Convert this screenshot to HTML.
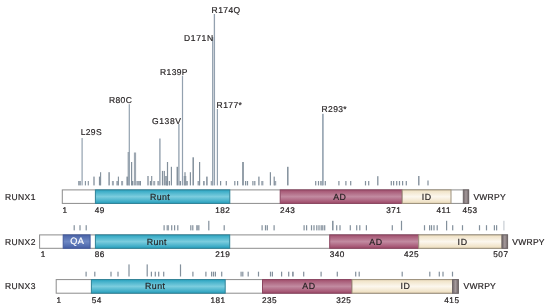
<!DOCTYPE html>
<html lang="en"><head><meta charset="utf-8"><title>RUNX mutations</title>
<style>
html,body{margin:0;padding:0;background:#fff;}
body{width:550px;height:308px;overflow:hidden;font-family:"Liberation Sans",Arial,sans-serif;}
svg{display:block;}
</style></head><body>
<svg width="550" height="308" viewBox="0 0 550 308">
<defs>
<linearGradient id="gr" x1="0" y1="0" x2="0" y2="1"><stop offset="0" stop-color="#2ca5c2"/><stop offset="0.5" stop-color="#7ccdde"/><stop offset="1" stop-color="#27a0be"/></linearGradient>
<linearGradient id="ga" x1="0" y1="0" x2="0" y2="1"><stop offset="0" stop-color="#a2506e"/><stop offset="0.5" stop-color="#c28ba1"/><stop offset="1" stop-color="#9e4868"/></linearGradient>
<linearGradient id="gi" x1="0" y1="0" x2="0" y2="1"><stop offset="0" stop-color="#eedfc0"/><stop offset="0.5" stop-color="#fcf7ee"/><stop offset="1" stop-color="#edddbc"/></linearGradient>
<linearGradient id="gq" x1="0" y1="0" x2="0" y2="1"><stop offset="0" stop-color="#4a64a8"/><stop offset="0.5" stop-color="#6e88c4"/><stop offset="1" stop-color="#4560a6"/></linearGradient>
<linearGradient id="gg" x1="0" y1="0" x2="1" y2="0"><stop offset="0" stop-color="#6e6466"/><stop offset="0.5" stop-color="#a59a9c"/><stop offset="1" stop-color="#6e6466"/></linearGradient>
</defs>
<g id="ticks" fill="#83909c">
<rect x="78.00" y="181.00" width="3.00" height="4.40" opacity="0.78"/>
<rect x="81.50" y="138.00" width="1.20" height="47.40" opacity="1" fill="#93a1af"/>
<rect x="84.85" y="181.00" width="1.10" height="4.40" opacity="1"/>
<rect x="87.75" y="181.00" width="1.10" height="4.40" opacity="1"/>
<rect x="93.35" y="176.60" width="1.30" height="8.80" opacity="1"/>
<rect x="98.90" y="176.60" width="1.40" height="8.80" opacity="1"/>
<rect x="100.05" y="172.20" width="1.10" height="13.20" opacity="1"/>
<rect x="108.40" y="172.20" width="1.40" height="13.20" opacity="1"/>
<rect x="111.90" y="181.00" width="2.00" height="4.40" opacity="0.78"/>
<rect x="116.30" y="181.00" width="2.00" height="4.40" opacity="0.78"/>
<rect x="117.85" y="176.60" width="1.10" height="8.80" opacity="1"/>
<rect x="121.10" y="181.00" width="2.00" height="4.40" opacity="0.78"/>
<rect x="126.45" y="176.60" width="1.50" height="8.80" opacity="1"/>
<rect x="127.60" y="152.00" width="2.00" height="33.40" opacity="0.78"/>
<rect x="128.70" y="104.20" width="1.20" height="81.20" opacity="1" fill="#93a1af"/>
<rect x="131.00" y="162.00" width="1.20" height="23.40" opacity="1"/>
<rect x="131.85" y="181.00" width="1.50" height="4.40" opacity="1"/>
<rect x="133.90" y="152.50" width="2.20" height="32.90" opacity="0.78"/>
<rect x="136.40" y="181.00" width="4.00" height="4.40" opacity="0.78"/>
<rect x="140.00" y="181.00" width="1.00" height="4.40" opacity="1"/>
<rect x="147.35" y="176.00" width="1.30" height="9.40" opacity="1"/>
<rect x="149.85" y="181.00" width="1.50" height="4.40" opacity="1"/>
<rect x="151.15" y="176.00" width="1.10" height="9.40" opacity="1"/>
<rect x="153.20" y="181.00" width="2.00" height="4.40" opacity="0.78"/>
<rect x="157.30" y="181.00" width="2.00" height="4.40" opacity="0.78"/>
<rect x="159.20" y="138.50" width="1.40" height="46.90" opacity="1" fill="#93a1af"/>
<rect x="161.90" y="170.90" width="1.20" height="14.50" opacity="1"/>
<rect x="163.70" y="170.90" width="1.20" height="14.50" opacity="1"/>
<rect x="165.25" y="176.00" width="1.50" height="9.40" opacity="1"/>
<rect x="166.90" y="162.00" width="1.20" height="23.40" opacity="1"/>
<rect x="166.00" y="181.00" width="2.00" height="4.40" opacity="0.78"/>
<rect x="168.80" y="181.00" width="1.20" height="4.40" opacity="1"/>
<rect x="170.80" y="166.80" width="1.20" height="18.60" opacity="1"/>
<rect x="176.55" y="166.80" width="1.50" height="18.60" opacity="1"/>
<rect x="178.25" y="124.00" width="1.30" height="61.40" opacity="1" fill="#93a1af"/>
<rect x="179.55" y="181.00" width="1.50" height="4.40" opacity="1"/>
<rect x="181.90" y="75.70" width="1.20" height="109.70" opacity="1" fill="#93a1af"/>
<rect x="183.70" y="176.00" width="2.60" height="9.40" opacity="0.78"/>
<rect x="184.40" y="172.20" width="1.20" height="13.20" opacity="1"/>
<rect x="186.25" y="181.00" width="1.50" height="4.40" opacity="1"/>
<rect x="189.80" y="172.20" width="1.20" height="13.20" opacity="1"/>
<rect x="192.45" y="157.30" width="1.50" height="28.10" opacity="1"/>
<rect x="197.50" y="181.00" width="2.00" height="4.40" opacity="0.78"/>
<rect x="199.00" y="162.00" width="1.20" height="23.40" opacity="1"/>
<rect x="203.15" y="181.00" width="1.50" height="4.40" opacity="1"/>
<rect x="206.15" y="176.60" width="1.50" height="8.80" opacity="1"/>
<rect x="210.70" y="181.00" width="2.00" height="4.40" opacity="0.78"/>
<rect x="212.05" y="37.00" width="1.30" height="148.40" opacity="1" fill="#93a1af"/>
<rect x="213.75" y="14.00" width="1.30" height="171.40" opacity="1" fill="#93a1af"/>
<rect x="216.80" y="109.00" width="1.20" height="76.40" opacity="1" fill="#93a1af"/>
<rect x="220.00" y="181.00" width="1.20" height="4.40" opacity="1"/>
<rect x="225.70" y="181.00" width="1.20" height="4.40" opacity="1"/>
<rect x="234.20" y="181.00" width="1.20" height="4.40" opacity="1"/>
<rect x="237.00" y="181.00" width="1.20" height="4.40" opacity="1"/>
<rect x="242.15" y="162.00" width="1.70" height="23.40" opacity="1"/>
<rect x="245.00" y="181.00" width="1.20" height="4.40" opacity="1"/>
<rect x="246.90" y="181.00" width="1.20" height="4.40" opacity="1"/>
<rect x="252.30" y="181.00" width="1.20" height="4.40" opacity="1"/>
<rect x="254.20" y="181.00" width="1.20" height="4.40" opacity="1"/>
<rect x="258.25" y="176.60" width="1.30" height="8.80" opacity="1"/>
<rect x="261.20" y="181.00" width="2.20" height="4.40" opacity="0.78"/>
<rect x="269.80" y="172.20" width="1.20" height="13.20" opacity="1"/>
<rect x="273.60" y="176.60" width="1.20" height="8.80" opacity="1"/>
<rect x="274.20" y="181.00" width="2.00" height="4.40" opacity="0.78"/>
<rect x="287.05" y="166.80" width="1.50" height="18.60" opacity="1"/>
<rect x="315.10" y="181.00" width="1.20" height="4.40" opacity="1"/>
<rect x="317.90" y="181.00" width="1.20" height="4.40" opacity="1"/>
<rect x="320.25" y="181.00" width="1.10" height="4.40" opacity="1"/>
<rect x="321.50" y="181.00" width="1.00" height="4.40" opacity="1"/>
<rect x="322.10" y="113.80" width="1.60" height="71.60" opacity="1" fill="#93a1af"/>
<rect x="324.70" y="181.00" width="1.20" height="4.40" opacity="1"/>
<rect x="338.30" y="181.00" width="1.20" height="4.40" opacity="1"/>
<rect x="345.30" y="181.00" width="1.20" height="4.40" opacity="1"/>
<rect x="350.10" y="181.00" width="1.20" height="4.40" opacity="1"/>
<rect x="364.90" y="181.00" width="1.20" height="4.40" opacity="1"/>
<rect x="368.10" y="181.00" width="1.20" height="4.40" opacity="1"/>
<rect x="377.15" y="176.20" width="1.30" height="9.20" opacity="1"/>
<rect x="390.70" y="181.00" width="1.20" height="4.40" opacity="1"/>
<rect x="393.00" y="181.00" width="1.20" height="4.40" opacity="1"/>
<rect x="396.10" y="181.00" width="1.20" height="4.40" opacity="1"/>
<rect x="398.90" y="181.00" width="1.20" height="4.40" opacity="1"/>
<rect x="402.00" y="181.00" width="1.20" height="4.40" opacity="1"/>
<rect x="405.70" y="181.00" width="1.20" height="4.40" opacity="1"/>
<rect x="418.10" y="176.00" width="1.40" height="9.40" opacity="1"/>
<rect x="427.40" y="180.50" width="1.20" height="4.90" opacity="1"/>
<rect x="73.60" y="225.20" width="1.20" height="5.20" opacity="1"/>
<rect x="79.40" y="225.20" width="1.20" height="5.20" opacity="1"/>
<rect x="85.60" y="225.20" width="1.20" height="5.20" opacity="1"/>
<rect x="163.50" y="225.20" width="1.20" height="5.20" opacity="1"/>
<rect x="166.55" y="225.20" width="2.50" height="5.20" opacity="0.8"/>
<rect x="171.10" y="225.20" width="1.20" height="5.20" opacity="1"/>
<rect x="174.00" y="225.20" width="1.20" height="5.20" opacity="1"/>
<rect x="177.20" y="225.20" width="1.20" height="5.20" opacity="1"/>
<rect x="190.20" y="225.20" width="1.20" height="5.20" opacity="1"/>
<rect x="192.20" y="225.20" width="1.20" height="5.20" opacity="1"/>
<rect x="196.05" y="225.20" width="3.50" height="5.20" opacity="0.8"/>
<rect x="208.20" y="220.80" width="1.20" height="9.60" opacity="1"/>
<rect x="223.60" y="225.20" width="1.20" height="5.20" opacity="1"/>
<rect x="261.50" y="225.20" width="1.20" height="5.20" opacity="1"/>
<rect x="264.90" y="225.20" width="1.20" height="5.20" opacity="1"/>
<rect x="266.70" y="225.20" width="1.20" height="5.20" opacity="1"/>
<rect x="273.50" y="225.20" width="1.20" height="5.20" opacity="1"/>
<rect x="303.50" y="225.20" width="1.20" height="5.20" opacity="1"/>
<rect x="306.00" y="225.20" width="1.20" height="5.20" opacity="1"/>
<rect x="310.90" y="225.20" width="1.20" height="5.20" opacity="1"/>
<rect x="313.40" y="225.20" width="1.20" height="5.20" opacity="1"/>
<rect x="316.20" y="225.20" width="1.20" height="5.20" opacity="1"/>
<rect x="318.40" y="225.20" width="1.20" height="5.20" opacity="1"/>
<rect x="320.60" y="225.20" width="1.20" height="5.20" opacity="1"/>
<rect x="322.20" y="225.20" width="1.20" height="5.20" opacity="1"/>
<rect x="324.10" y="225.20" width="1.20" height="5.20" opacity="1"/>
<rect x="332.05" y="220.80" width="1.50" height="9.60" opacity="1"/>
<rect x="336.10" y="225.20" width="1.20" height="5.20" opacity="1"/>
<rect x="339.40" y="225.20" width="1.20" height="5.20" opacity="1"/>
<rect x="349.70" y="225.20" width="1.20" height="5.20" opacity="1"/>
<rect x="356.10" y="225.20" width="1.20" height="5.20" opacity="1"/>
<rect x="359.20" y="225.20" width="1.20" height="5.20" opacity="1"/>
<rect x="365.80" y="225.20" width="1.20" height="5.20" opacity="1"/>
<rect x="391.70" y="225.20" width="1.20" height="5.20" opacity="1"/>
<rect x="400.90" y="220.80" width="1.20" height="9.60" opacity="1"/>
<rect x="423.90" y="225.20" width="1.20" height="5.20" opacity="1"/>
<rect x="429.00" y="225.20" width="1.20" height="5.20" opacity="1"/>
<rect x="430.90" y="225.20" width="1.20" height="5.20" opacity="1"/>
<rect x="433.40" y="225.20" width="1.20" height="5.20" opacity="1"/>
<rect x="436.60" y="225.20" width="1.20" height="5.20" opacity="1"/>
<rect x="446.00" y="220.80" width="1.20" height="9.60" opacity="1"/>
<rect x="452.10" y="225.20" width="1.20" height="5.20" opacity="1"/>
<rect x="461.90" y="225.20" width="1.20" height="5.20" opacity="1"/>
<rect x="478.90" y="225.20" width="1.20" height="5.20" opacity="1"/>
<rect x="485.90" y="225.20" width="1.20" height="5.20" opacity="1"/>
<rect x="493.80" y="225.20" width="1.20" height="5.20" opacity="1"/>
<rect x="496.00" y="225.20" width="1.20" height="5.20" opacity="1"/>
<rect x="503.30" y="220.80" width="1.20" height="9.60" opacity="0.45"/>
<rect x="85.50" y="271.70" width="1.20" height="4.80" opacity="1"/>
<rect x="94.20" y="271.70" width="1.20" height="4.80" opacity="1"/>
<rect x="110.40" y="271.70" width="1.20" height="4.80" opacity="1"/>
<rect x="117.40" y="271.70" width="1.20" height="4.80" opacity="1"/>
<rect x="128.40" y="264.40" width="1.20" height="12.10" opacity="1"/>
<rect x="146.60" y="264.40" width="1.20" height="12.10" opacity="1"/>
<rect x="150.80" y="271.70" width="1.20" height="4.80" opacity="1"/>
<rect x="154.70" y="271.70" width="1.20" height="4.80" opacity="1"/>
<rect x="158.10" y="271.70" width="1.20" height="4.80" opacity="1"/>
<rect x="163.10" y="271.70" width="1.20" height="4.80" opacity="1"/>
<rect x="179.90" y="264.40" width="1.20" height="12.10" opacity="1"/>
<rect x="192.30" y="271.70" width="1.20" height="4.80" opacity="1"/>
<rect x="205.30" y="271.70" width="1.20" height="4.80" opacity="1"/>
<rect x="211.00" y="271.70" width="1.20" height="4.80" opacity="1"/>
<rect x="212.90" y="271.70" width="1.20" height="4.80" opacity="1"/>
<rect x="214.80" y="271.70" width="1.20" height="4.80" opacity="1"/>
<rect x="221.10" y="271.70" width="1.20" height="4.80" opacity="1"/>
<rect x="240.50" y="271.70" width="1.20" height="4.80" opacity="1"/>
<rect x="242.20" y="271.70" width="1.20" height="4.80" opacity="1"/>
<rect x="247.60" y="271.70" width="1.20" height="4.80" opacity="1"/>
<rect x="257.90" y="271.70" width="1.20" height="4.80" opacity="1"/>
<rect x="269.90" y="271.70" width="1.20" height="4.80" opacity="1"/>
<rect x="271.80" y="271.70" width="1.20" height="4.80" opacity="1"/>
<rect x="281.00" y="271.70" width="1.20" height="4.80" opacity="1"/>
<rect x="288.10" y="271.70" width="1.20" height="4.80" opacity="1"/>
<rect x="292.10" y="271.70" width="1.60" height="4.80" opacity="1"/>
<rect x="303.10" y="271.70" width="1.20" height="4.80" opacity="1"/>
<rect x="320.50" y="271.70" width="1.20" height="4.80" opacity="1"/>
<rect x="336.70" y="271.70" width="1.20" height="4.80" opacity="1"/>
<rect x="355.10" y="271.70" width="1.20" height="4.80" opacity="1"/>
<rect x="358.60" y="271.70" width="1.20" height="4.80" opacity="1"/>
<rect x="401.60" y="271.70" width="1.20" height="4.80" opacity="1"/>
<rect x="429.20" y="271.70" width="1.20" height="4.80" opacity="1"/>
<rect x="438.70" y="271.70" width="1.20" height="4.80" opacity="1"/>
<rect x="442.40" y="271.70" width="1.20" height="4.80" opacity="1"/>
<rect x="451.90" y="271.70" width="1.20" height="4.80" opacity="1"/>
</g>
<g id="bars">
<rect x="62.30" y="189.90" width="406.20" height="13.50" fill="#fff" stroke="#8c8c8c" stroke-width="1"/>
<rect x="95.40" y="189.90" width="134.40" height="13.50" fill="url(#gr)" stroke="#2f8297" stroke-width="1"/>
<rect x="280.20" y="189.90" width="122.00" height="13.50" fill="url(#ga)" stroke="#8a4560" stroke-width="1"/>
<rect x="402.20" y="189.90" width="48.80" height="13.50" fill="url(#gi)" stroke="#9d917c" stroke-width="1"/>
<rect x="463.30" y="189.90" width="5.40" height="13.50" fill="url(#gg)" stroke="#6e6668" stroke-width="1"/>
<rect x="39.60" y="234.90" width="467.90" height="13.40" fill="#fff" stroke="#8c8c8c" stroke-width="1"/>
<rect x="63.20" y="234.90" width="26.90" height="13.40" fill="url(#gq)" stroke="#445a9c" stroke-width="1"/>
<rect x="95.40" y="234.90" width="134.30" height="13.40" fill="url(#gr)" stroke="#2f8297" stroke-width="1"/>
<rect x="329.70" y="234.90" width="89.00" height="13.40" fill="url(#ga)" stroke="#8a4560" stroke-width="1"/>
<rect x="418.70" y="234.90" width="83.30" height="13.40" fill="url(#gi)" stroke="#9d917c" stroke-width="1"/>
<rect x="502.00" y="234.90" width="5.60" height="13.40" fill="url(#gg)" stroke="#6e6668" stroke-width="1"/>
<rect x="56.20" y="279.60" width="402.10" height="13.60" fill="#fff" stroke="#8c8c8c" stroke-width="1"/>
<rect x="91.40" y="279.60" width="133.80" height="13.60" fill="url(#gr)" stroke="#2f8297" stroke-width="1"/>
<rect x="262.50" y="279.60" width="89.50" height="13.60" fill="url(#ga)" stroke="#8a4560" stroke-width="1"/>
<rect x="352.00" y="279.60" width="100.50" height="13.60" fill="url(#gi)" stroke="#9d917c" stroke-width="1"/>
<rect x="452.50" y="279.60" width="5.90" height="13.60" fill="url(#gg)" stroke="#6e6668" stroke-width="1"/>
</g>
<g id="labels" text-rendering="geometricPrecision" font-family="'Liberation Sans', Arial, sans-serif">
<text x="211.60" y="12.60" font-size="8.5" letter-spacing="0.4" text-anchor="start" fill="#231f20" stroke="#231f20" stroke-width="0.18" >R174Q</text>
<text x="183.90" y="40.90" font-size="8.5" letter-spacing="0.7" text-anchor="start" fill="#231f20" stroke="#231f20" stroke-width="0.18" >D171N</text>
<text x="160.10" y="74.60" font-size="8.5" letter-spacing="0.35" text-anchor="start" fill="#231f20" stroke="#231f20" stroke-width="0.18" >R139P</text>
<text x="216.60" y="107.80" font-size="8.5" letter-spacing="0.4" text-anchor="start" fill="#231f20" stroke="#231f20" stroke-width="0.18" >R177*</text>
<text x="109.00" y="102.80" font-size="8.5" letter-spacing="0.35" text-anchor="start" fill="#231f20" stroke="#231f20" stroke-width="0.18" >R80C</text>
<text x="80.80" y="135.00" font-size="8.5" letter-spacing="0.3" text-anchor="start" fill="#231f20" stroke="#231f20" stroke-width="0.18" >L29S</text>
<text x="151.90" y="123.70" font-size="8.5" letter-spacing="0.65" text-anchor="start" fill="#231f20" stroke="#231f20" stroke-width="0.18" >G138V</text>
<text x="321.60" y="111.90" font-size="8.5" letter-spacing="0.35" text-anchor="start" fill="#231f20" stroke="#231f20" stroke-width="0.18" >R293*</text>
<text x="5.00" y="199.70" font-size="8.5" letter-spacing="0.4" text-anchor="start" fill="#231f20" stroke="#231f20" stroke-width="0.18" >RUNX1</text>
<text x="5.00" y="244.60" font-size="8.5" letter-spacing="0.4" text-anchor="start" fill="#231f20" stroke="#231f20" stroke-width="0.18" >RUNX2</text>
<text x="5.00" y="289.40" font-size="8.5" letter-spacing="0.4" text-anchor="start" fill="#231f20" stroke="#231f20" stroke-width="0.18" >RUNX3</text>
<text x="473.40" y="199.70" font-size="8.5" letter-spacing="0.25" text-anchor="start" fill="#231f20" stroke="#231f20" stroke-width="0.18" >VWRPY</text>
<text x="512.30" y="244.60" font-size="8.5" letter-spacing="0.25" text-anchor="start" fill="#231f20" stroke="#231f20" stroke-width="0.18" >VWRPY</text>
<text x="463.60" y="289.40" font-size="8.5" letter-spacing="0.25" text-anchor="start" fill="#231f20" stroke="#231f20" stroke-width="0.18" >VWRPY</text>
<text x="160.00" y="199.70" font-size="8.8" letter-spacing="0.4" text-anchor="middle" fill="#231f20" stroke="#231f20" stroke-width="0.18" >Runt</text>
<text x="339.80" y="199.70" font-size="8.8" letter-spacing="0.5" text-anchor="middle" fill="#231f20" stroke="#231f20" stroke-width="0.18" >AD</text>
<text x="426.70" y="199.70" font-size="8.8" letter-spacing="0.6" text-anchor="middle" fill="#231f20" stroke="#231f20" stroke-width="0.18" >ID</text>
<text x="77.30" y="244.40" font-size="9.2" letter-spacing="0.5" text-anchor="middle" fill="#fff" stroke="#fff" stroke-width="0.18" >QA</text>
<text x="156.80" y="244.60" font-size="8.8" letter-spacing="0.4" text-anchor="middle" fill="#231f20" stroke="#231f20" stroke-width="0.18" >Runt</text>
<text x="375.90" y="244.60" font-size="8.8" letter-spacing="0.5" text-anchor="middle" fill="#231f20" stroke="#231f20" stroke-width="0.18" >AD</text>
<text x="462.60" y="244.60" font-size="8.8" letter-spacing="0.6" text-anchor="middle" fill="#231f20" stroke="#231f20" stroke-width="0.18" >ID</text>
<text x="155.20" y="289.40" font-size="8.8" letter-spacing="0.4" text-anchor="middle" fill="#231f20" stroke="#231f20" stroke-width="0.18" >Runt</text>
<text x="308.90" y="289.40" font-size="8.8" letter-spacing="0.5" text-anchor="middle" fill="#231f20" stroke="#231f20" stroke-width="0.18" >AD</text>
<text x="405.40" y="289.40" font-size="8.8" letter-spacing="0.6" text-anchor="middle" fill="#231f20" stroke="#231f20" stroke-width="0.18" >ID</text>
<text x="62.50" y="213.10" font-size="8.2" letter-spacing="0.5" text-anchor="start" fill="#231f20" stroke="#231f20" stroke-width="0.24" >1</text>
<text x="94.70" y="213.10" font-size="8.2" letter-spacing="0.5" text-anchor="start" fill="#231f20" stroke="#231f20" stroke-width="0.24" >49</text>
<text x="215.20" y="213.10" font-size="8.2" letter-spacing="0.5" text-anchor="start" fill="#231f20" stroke="#231f20" stroke-width="0.24" >182</text>
<text x="280.10" y="213.10" font-size="8.2" letter-spacing="0.5" text-anchor="start" fill="#231f20" stroke="#231f20" stroke-width="0.24" >243</text>
<text x="386.20" y="213.10" font-size="8.2" letter-spacing="0.5" text-anchor="start" fill="#231f20" stroke="#231f20" stroke-width="0.24" >371</text>
<text x="436.40" y="213.10" font-size="8.2" letter-spacing="0.5" text-anchor="start" fill="#231f20" stroke="#231f20" stroke-width="0.24" >411</text>
<text x="462.40" y="213.10" font-size="8.2" letter-spacing="0.5" text-anchor="start" fill="#231f20" stroke="#231f20" stroke-width="0.24" >453</text>
<text x="40.80" y="257.00" font-size="8.2" letter-spacing="0.5" text-anchor="start" fill="#231f20" stroke="#231f20" stroke-width="0.24" >1</text>
<text x="94.70" y="257.00" font-size="8.2" letter-spacing="0.5" text-anchor="start" fill="#231f20" stroke="#231f20" stroke-width="0.24" >86</text>
<text x="215.20" y="257.00" font-size="8.2" letter-spacing="0.5" text-anchor="start" fill="#231f20" stroke="#231f20" stroke-width="0.24" >219</text>
<text x="329.70" y="257.00" font-size="8.2" letter-spacing="0.5" text-anchor="start" fill="#231f20" stroke="#231f20" stroke-width="0.24" >340</text>
<text x="403.90" y="257.00" font-size="8.2" letter-spacing="0.5" text-anchor="start" fill="#231f20" stroke="#231f20" stroke-width="0.24" >425</text>
<text x="493.30" y="257.00" font-size="8.2" letter-spacing="0.5" text-anchor="start" fill="#231f20" stroke="#231f20" stroke-width="0.24" >507</text>
<text x="56.50" y="302.90" font-size="8.2" letter-spacing="0.5" text-anchor="start" fill="#231f20" stroke="#231f20" stroke-width="0.24" >1</text>
<text x="91.80" y="302.90" font-size="8.2" letter-spacing="0.5" text-anchor="start" fill="#231f20" stroke="#231f20" stroke-width="0.24" >54</text>
<text x="210.50" y="302.90" font-size="8.2" letter-spacing="0.5" text-anchor="start" fill="#231f20" stroke="#231f20" stroke-width="0.24" >181</text>
<text x="262.00" y="302.90" font-size="8.2" letter-spacing="0.5" text-anchor="start" fill="#231f20" stroke="#231f20" stroke-width="0.24" >235</text>
<text x="336.20" y="302.90" font-size="8.2" letter-spacing="0.5" text-anchor="start" fill="#231f20" stroke="#231f20" stroke-width="0.24" >325</text>
<text x="444.30" y="302.90" font-size="8.2" letter-spacing="0.5" text-anchor="start" fill="#231f20" stroke="#231f20" stroke-width="0.24" >415</text>
</g>
</svg>
</body></html>
